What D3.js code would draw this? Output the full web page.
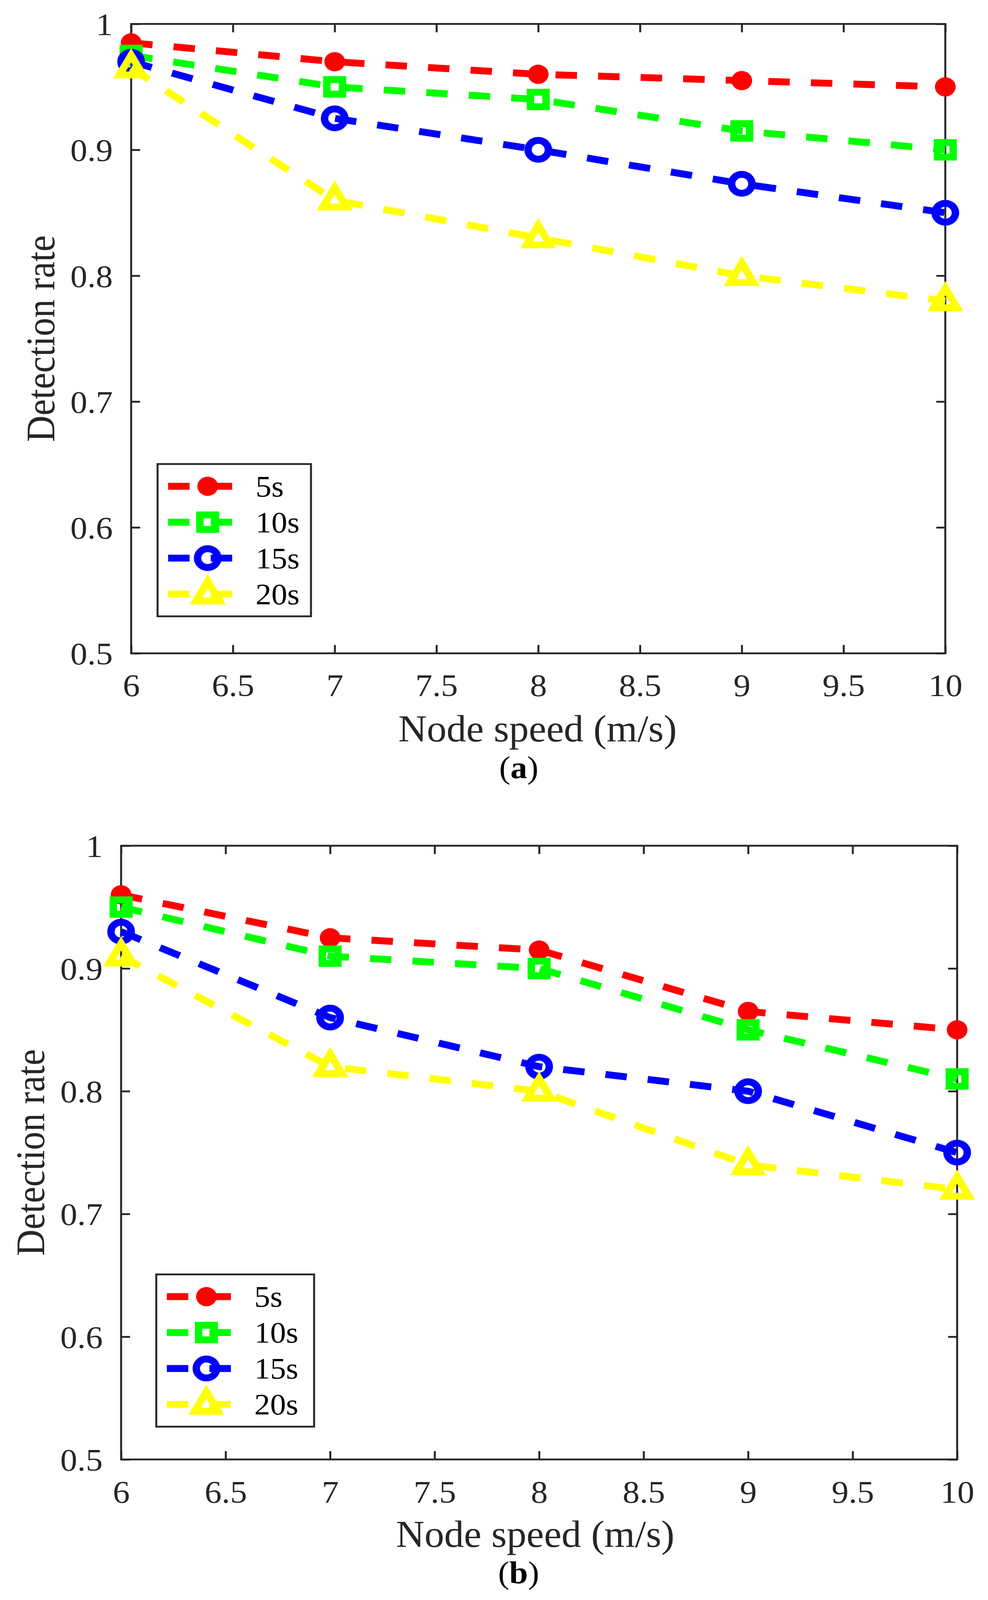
<!DOCTYPE html>
<html><head><meta charset="utf-8">
<script src="https://cdn.jsdelivr.net/npm/d3@7"></script>
<style>
html,body{margin:0;padding:0;background:#fff;overflow:hidden;width:100%;height:100%;}
svg{display:block;width:100vw;height:100vh;}
</style>
</head><body>
<svg id="chart" viewBox="0 0 2529 4410" preserveAspectRatio="none"></svg>
<script>
// ---------------- data ----------------
const speeds = [6, 7, 8, 9, 10];
const seriesNames = ["5s", "10s", "15s", "20s"];
// panel (a)
const a5  = [0.985, 0.97, 0.96, 0.955, 0.95];
const a10 = [0.975, 0.95, 0.94, 0.915, 0.90];
const a15 = [0.97, 0.925, 0.90, 0.873, 0.85];
const a20 = [0.965, 0.86, 0.83, 0.80, 0.78];
// panel (b)
const b5  = [0.96, 0.925, 0.915, 0.865, 0.85];
const b10 = [0.95, 0.91, 0.90, 0.85, 0.81];
const b15 = [0.93, 0.86, 0.82, 0.80, 0.75];
const b20 = [0.91, 0.82, 0.80, 0.74, 0.72];
const xTickValues = [6, 6.5, 7, 7.5, 8, 8.5, 9, 9.5, 10];
const xTickLabels = ["6", "6.5", "7", "7.5", "8", "8.5", "9", "9.5", "10"];
const yTickValues = [0.5, 0.6, 0.7, 0.8, 0.9, 1];
const yTickLabels = ["0.5", "0.6", "0.7", "0.8", "0.9", "1"];
const xLabel = "Node speed (m/s)";
const yLabel = "Detection rate";
const panelLetters = ["a", "b"];

// ---------------- styles ----------------
const colors = ["#ff0000", "#00ff00", "#0000ff", "#ffff00"];
const markerTypes = ["dot", "square", "ring", "triangle"];
const axisColor = "#262626";
const serif = "'Liberation Serif', 'Times New Roman', serif";
const LW = 19, DASH = "55,54";

const panels = [
  { letter: panelLetters[0], series: [a5, a10, a15, a20],
    left: 335.7, right: 2419.7, top: 66, bottom: 1800.7,
    leg: { x0: 403.3, x1: 796, y0: 1279, y1: 1698.7 },
    ylabX: 139, xlabCx: 1376, xlabBase: 2043.8, capCx: 1328, capBase: 2145, xTickPad: 56 },
  { letter: panelLetters[1], series: [b5, b10, b15, b20],
    left: 310, right: 2450, top: 2331, bottom: 4022.6,
    leg: { x0: 400, x1: 804, y0: 3512.6, y1: 3932.3 },
    ylabX: 113, xlabCx: 1370, xlabBase: 4264, capCx: 1327.5, capBase: 4363.3, xTickPad: 58 }
];

const svg = d3.select("#chart");

function drawMarker(g, type, color, x, y) {
  if (type === "dot") {
    g.append("circle").attr("cx", x).attr("cy", y).attr("r", 26.5).attr("fill", color);
  } else if (type === "square") {
    g.append("rect").attr("x", x - 20).attr("y", y - 20).attr("width", 40).attr("height", 40)
      .attr("fill", "none").attr("stroke", color).attr("stroke-width", LW).attr("stroke-linejoin", "miter");
  } else if (type === "ring") {
    g.append("circle").attr("cx", x).attr("cy", y).attr("r", 26)
      .attr("fill", "none").attr("stroke", color).attr("stroke-width", LW);
  } else {
    g.append("path").attr("d", `M${x},${y - 35}L${x + 30},${y + 19}L${x - 30},${y + 19}Z`)
      .attr("fill", "none").attr("stroke", color).attr("stroke-width", LW).attr("stroke-linejoin", "miter");
  }
}

function styleAxis(g) {
  g.select(".domain").remove();
  g.attr("font-family", serif).attr("font-size", 87).attr("color", axisColor);
  g.selectAll("line").attr("stroke-width", 5).attr("stroke", axisColor);
  g.selectAll("text").attr("fill", axisColor);
}

panels.forEach(p => {
  const x = d3.scaleLinear().domain([6, 10]).range([p.left, p.right]);
  const y = d3.scaleLinear().domain([0.5, 1]).range([p.bottom, p.top]);
  const g = svg.append("g");

  // axes (ticks inward on all four sides)
  g.append("g").attr("transform", `translate(0,${p.bottom})`)
    .call(d3.axisBottom(x).tickValues(xTickValues).tickFormat((d, i) => xTickLabels[i])
      .tickSizeInner(-23).tickSizeOuter(0).tickPadding(p.xTickPad))
    .call(styleAxis);
  g.append("g").attr("transform", `translate(0,${p.top})`)
    .call(d3.axisTop(x).tickValues(xTickValues).tickFormat("").tickSizeInner(-23).tickSizeOuter(0))
    .call(styleAxis);
  g.append("g").attr("transform", `translate(${p.left},0)`)
    .call(d3.axisLeft(y).tickValues(yTickValues).tickFormat((d, i) => yTickLabels[i])
      .tickSizeInner(-23).tickSizeOuter(0).tickPadding(47))
    .call(styleAxis)
    .call(a => a.selectAll("text").attr("dy", "0.35em"));
  g.append("g").attr("transform", `translate(${p.right},0)`)
    .call(d3.axisRight(y).tickValues(yTickValues).tickFormat("").tickSizeInner(-23).tickSizeOuter(0))
    .call(styleAxis);

  // box
  g.append("rect").attr("x", p.left).attr("y", p.top)
    .attr("width", p.right - p.left).attr("height", p.bottom - p.top)
    .attr("fill", "none").attr("stroke", axisColor).attr("stroke-width", 5);

  // series
  const line = d3.line().x((d, i) => x(speeds[i])).y(d => y(d));
  p.series.forEach((vals, si) => {
    const sg = g.append("g");
    sg.append("path").attr("d", line(vals)).attr("fill", "none")
      .attr("stroke", colors[si]).attr("stroke-width", LW)
      .attr("stroke-dasharray", DASH).attr("stroke-linecap", "butt").attr("stroke-linejoin", "round");
    vals.forEach((v, i) => drawMarker(sg, markerTypes[si], colors[si], x(speeds[i]), y(v)));
  });

  // legend
  const L = p.leg;
  const lg = g.append("g");
  lg.append("rect").attr("x", L.x0).attr("y", L.y0).attr("width", L.x1 - L.x0).attr("height", L.y1 - L.y0)
    .attr("fill", "#fff").attr("stroke", axisColor).attr("stroke-width", 5);
  seriesNames.forEach((name, si) => {
    const ry = L.y0 + 61.3 + si * 99;
    lg.append("line").attr("x1", L.x0 + 27).attr("x2", L.x0 + 191).attr("y1", ry).attr("y2", ry)
      .attr("stroke", colors[si]).attr("stroke-width", LW).attr("stroke-dasharray", DASH);
    drawMarker(lg, markerTypes[si], colors[si], L.x0 + 128.4, ry);
    lg.append("text").attr("x", L.x0 + 251).attr("y", ry + 28)
      .attr("font-family", serif).attr("font-size", 81).attr("fill", "#000").text(name);
  });

  // axis labels
  g.append("text").attr("x", p.xlabCx).attr("y", p.xlabBase).attr("text-anchor", "middle")
    .attr("font-family", serif).attr("font-size", 104).attr("fill", axisColor)
    .attr("textLength", 713).attr("lengthAdjust", "spacingAndGlyphs").text(xLabel);
  g.append("text").attr("transform", `translate(${p.ylabX},${(p.top + p.bottom) / 2}) rotate(-90)`)
    .attr("text-anchor", "middle")
    .attr("font-family", serif).attr("font-size", 104).attr("fill", axisColor)
    .attr("textLength", 570).attr("lengthAdjust", "spacingAndGlyphs").text(yLabel);

  // panel caption
  const cap = g.append("text").attr("x", p.capCx).attr("y", p.capBase).attr("text-anchor", "middle")
    .attr("font-family", serif).attr("font-size", 86).attr("fill", "#000");
  cap.append("tspan").text("(");
  cap.append("tspan").attr("font-weight", "bold").text(p.letter);
  cap.append("tspan").text(")");
});
</script>
</body></html>
